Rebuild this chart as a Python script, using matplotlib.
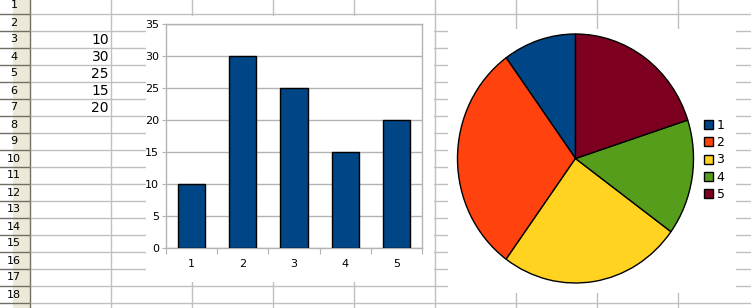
import numpy as np
import matplotlib.pyplot as plt
from matplotlib.patches import Rectangle

# sheet data (column A, rows 3-7)
categories = ['1', '2', '3', '4', '5']
values = [10, 30, 25, 15, 20]
first_row = 3
n_rows = 18
pie_colors = ['#004586', '#ff420e', '#ffd320', '#579d1c', '#7e0021']
bar_color = '#004586'

W, H = 751, 308
fig = plt.figure(figsize=(W / 100, H / 100), dpi=100)

# ---- spreadsheet background, in pixel units ----
bg = fig.add_axes([0, 0, 1, 1])
bg.set_xlim(0, W)
bg.set_ylim(H, 0)
bg.axis('off')

row_h = 17
row_top0 = -3
head_w = 30
col_lines = [111, 192, 273, 354, 435, 516, 597, 678]
grid_c = '#c0c0c0'

# row header column
bg.add_patch(Rectangle((13, 0), head_w - 13, H, color='#ece9d8', lw=0))
bg.plot([head_w, head_w], [0, H], color='#716f64', lw=1)
for r in range(1, n_rows + 2):
    y_bot = row_top0 + r * row_h
    bg.plot([0, head_w], [y_bot, y_bot], color='#716f64', lw=1)
    bg.plot([head_w + 1, W], [y_bot, y_bot], color=grid_c, lw=1)
    if r <= n_rows:
        bg.text(14, y_bot - row_h / 2, str(r), ha='center', va='center',
                fontsize=8, color='black')
for x in col_lines:
    bg.plot([x, x], [0, H], color=grid_c, lw=1)

# cell values
for i, v in enumerate(values):
    y_c = row_top0 + (first_row + i) * row_h - row_h / 2
    bg.text(109, y_c + 0.5, str(v), ha='right', va='center', fontsize=10)

# white chart areas
bg.add_patch(Rectangle((146, 16), 288, 266, color='white', lw=0, zorder=5))
bg.add_patch(Rectangle((448, 29), 288, 264, color='white', lw=0, zorder=5))

# ---- bar chart ----
axc = '#b3b3b3'
px_l, px_r, px_t, px_b = 166, 422, 24, 248
ax = fig.add_axes([px_l / W, 1 - px_b / H, (px_r - px_l) / W, (px_b - px_t) / H])
x = np.arange(len(values))
ax.bar(x, values, width=0.53, color=bar_color, edgecolor='black', lw=1, zorder=3)
ax.set_xlim(-0.5, len(values) - 0.5)
ax.set_ylim(0, 35)
ax.set_yticks(np.arange(0, 36, 5))
ax.yaxis.grid(True, color=axc, lw=1)
ax.set_axisbelow(True)
ax.set_xticks(np.arange(-0.5, len(values)), [''] * (len(values) + 1))
ax.set_xticks(x, categories, minor=True)
ax.tick_params(axis='x', which='major', length=4.5, color=axc, direction='out')
ax.tick_params(axis='x', which='minor', length=0, pad=8, labelsize=8)
ax.tick_params(axis='y', length=3, color=axc, pad=2, labelsize=8)
for s in ax.spines.values():
    s.set_color(axc)
    s.set_linewidth(1)

# ---- pie chart ----
cx, cy, rx, ry = 575.5, 158.5, 118, 124.5
k = 1.02
ax2 = fig.add_axes([(cx - rx * k) / W, 1 - (cy + ry * k) / H,
                    2 * rx * k / W, 2 * ry * k / H])
wedges, _ = ax2.pie(values, colors=pie_colors, startangle=90, counterclock=True,
                    wedgeprops=dict(edgecolor='black', linewidth=1))
ax2.set_aspect('auto')
ax2.set_xlim(-k, k)
ax2.set_ylim(-k, k)

fig.legend(wedges, categories, loc='center left',
           bbox_to_anchor=(704 / W, 1 - 160 / H), frameon=False,
           fontsize=9, handlelength=0.75, handleheight=0.75,
           handletextpad=0.25, labelspacing=0.35, borderpad=0, borderaxespad=0)

fig.savefig('out.png', dpi=100)
